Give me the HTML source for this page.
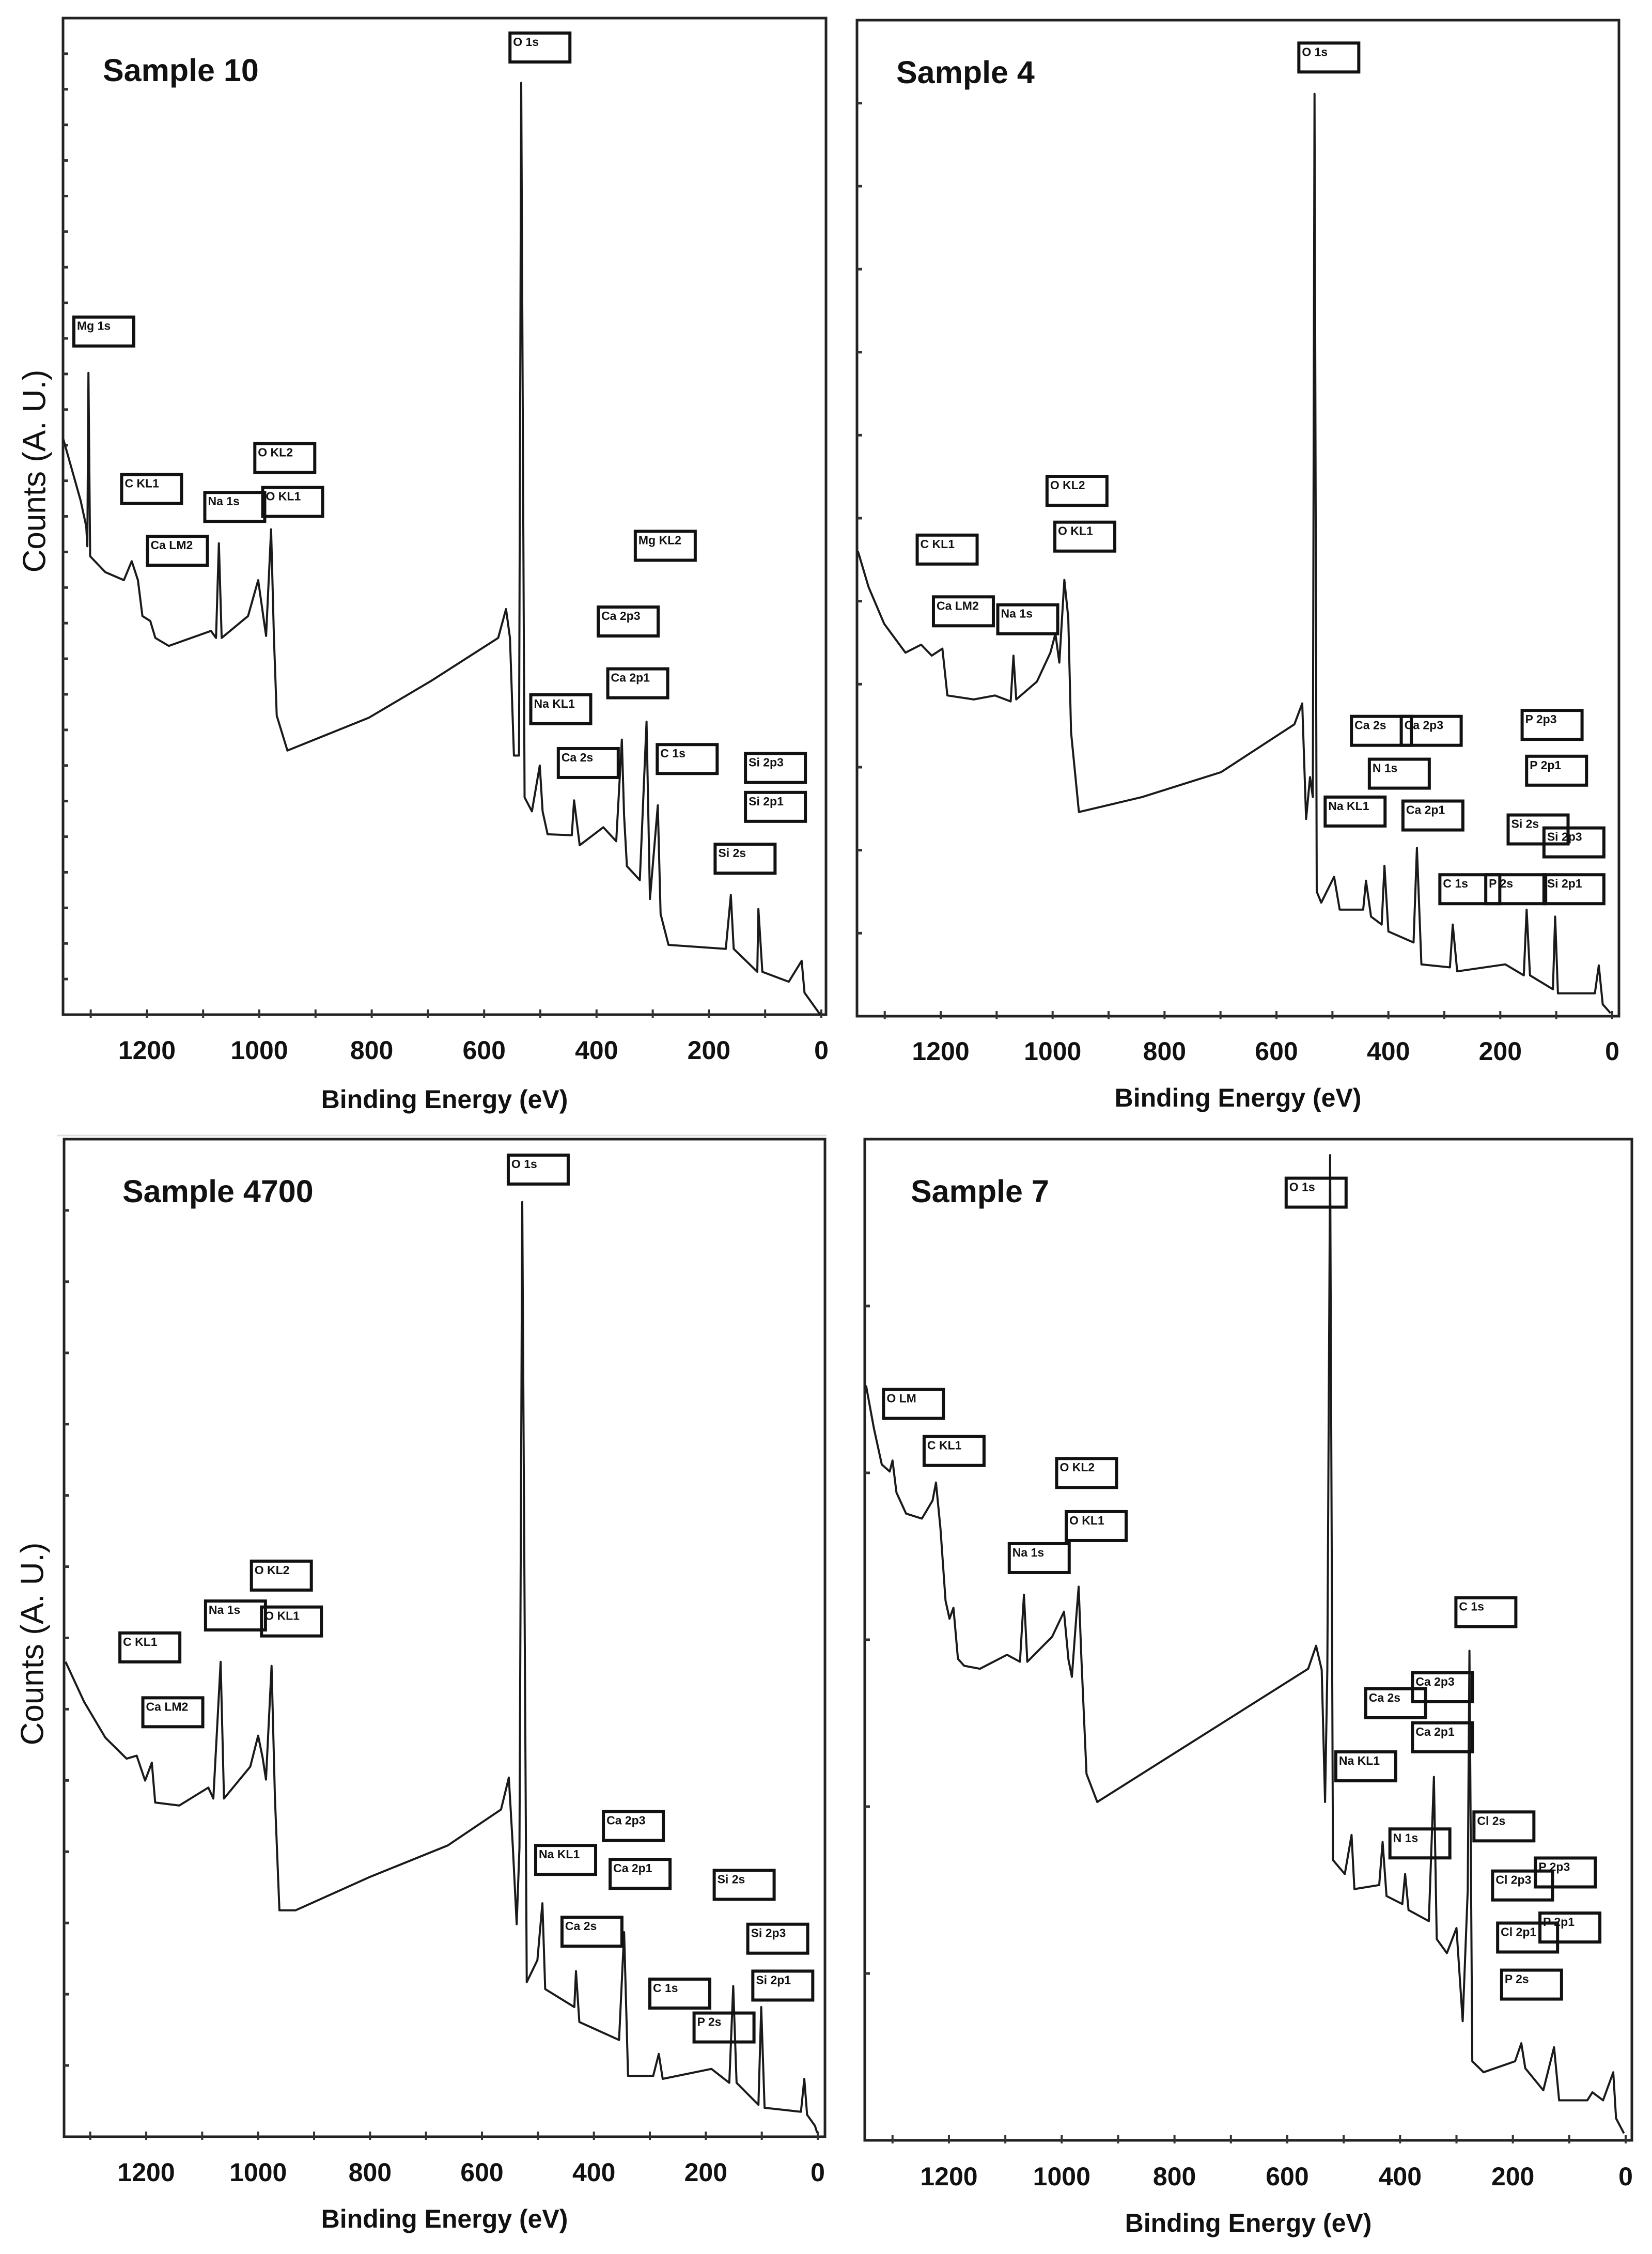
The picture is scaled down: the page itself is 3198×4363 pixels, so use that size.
<!DOCTYPE html>
<html>
<head>
<meta charset="utf-8">
<style>
html,body{margin:0;padding:0;background:#fff;}
svg{display:block;}
text{font-family:"Liberation Sans",sans-serif;}
</style>
</head>
<body>
<svg id="fig" width="3198" height="4363" viewBox="0 0 3198 4363" xmlns="http://www.w3.org/2000/svg">
<rect x="0" y="0" width="3198" height="4363" fill="#fff"/>
</svg>
<script>
// ---- shared tick labels ----
const xTickLabels = [1200, 1000, 800, 600, 400, 200, 0];
const xMinorTicks = [1300, 1200, 1100, 1000, 900, 800, 700, 600, 500, 400, 300, 200, 100, 0];

// ---- Sample 10 ----
const s10Energy = [1349,1318,1308,1306,1304,1301,1274,1241,1227,1216,1208,1194,1185,1161,1086,1077,1072,1067,1020,1002,993,988,979,974,969,950,805,694,575,561,554,547,538,534,528,515,501,496,487,444,440,430,388,365,355,351,346,323,311,305,291,286,272,170,161,156,114,112,105,58,35,30,2];
const s10Counts = [0.578,0.516,0.49,0.47,0.644,0.46,0.444,0.436,0.455,0.436,0.40,0.395,0.378,0.37,0.385,0.378,0.473,0.378,0.40,0.436,0.40,0.38,0.487,0.378,0.30,0.265,0.298,0.335,0.378,0.407,0.378,0.26,0.26,0.935,0.218,0.204,0.25,0.204,0.181,0.18,0.215,0.17,0.188,0.174,0.276,0.20,0.149,0.135,0.294,0.116,0.21,0.101,0.07,0.066,0.12,0.066,0.043,0.106,0.043,0.033,0.054,0.022,0.0];
const s10LabelText = ["O 1s","Mg 1s","C KL1","O KL2","Na 1s","O KL1","Ca LM2","Mg KL2","Ca 2p3","Ca 2p1","Na KL1","Ca 2s","C 1s","Si 2p3","Si 2p1","Si 2s"];
const s10LabelEnergy = [554,1330,1245,1008,1097,994,1199,331,397,380,517,468,292,135,135,189];
const s10LabelCount = [0.985,0.700,0.542,0.573,0.524,0.529,0.480,0.485,0.409,0.347,0.321,0.267,0.271,0.262,0.223,0.171];

// ---- Sample 4 ----
const s4Energy = [1348,1329,1301,1263,1235,1216,1197,1188,1141,1103,1075,1070,1065,1028,1004,995,988,979,972,967,953,840,699,568,554,547,540,535,532,528,520,497,487,445,440,431,412,407,400,355,349,341,290,285,277,191,158,153,147,106,102,97,31,24,17,3];
const s4Counts = [0.467,0.431,0.394,0.365,0.373,0.362,0.369,0.322,0.318,0.322,0.316,0.362,0.318,0.336,0.365,0.384,0.355,0.438,0.40,0.285,0.205,0.22,0.245,0.293,0.314,0.198,0.24,0.22,0.926,0.125,0.114,0.14,0.107,0.107,0.136,0.10,0.092,0.151,0.085,0.074,0.169,0.052,0.049,0.092,0.045,0.052,0.041,0.107,0.041,0.027,0.10,0.023,0.023,0.051,0.012,0.003];
const s4LabelText = ["O 1s","O KL2","O KL1","C KL1","Ca LM2","Na 1s","Ca 2s","Ca 2p3","N 1s","Na KL1","Ca 2p1","P 2p3","P 2p1","Si 2s","Si 2p3","C 1s","P 2s","Si 2p1"];
const s4LabelEnergy = [560,1010,996,1242,1213,1098,466,377,434,513,374,161,153,186,122,308,226,122];
const s4LabelCount = [0.977,0.542,0.496,0.483,0.421,0.413,0.301,0.301,0.258,0.220,0.216,0.307,0.261,0.202,0.189,0.142,0.142,0.142];

// ---- Sample 4700 ----
const s4700Energy = [1344,1311,1273,1235,1217,1202,1190,1184,1141,1089,1080,1067,1061,1014,1000,992,986,976,970,962,933,802,661,566,552,545,538,533,528,520,501,492,487,435,432,426,355,346,339,294,284,277,190,158,151,145,106,101,95,30,24,19,5,1];
const s4700Counts = [0.476,0.436,0.400,0.379,0.382,0.357,0.375,0.335,0.332,0.350,0.339,0.476,0.339,0.371,0.402,0.380,0.358,0.472,0.340,0.227,0.227,0.260,0.292,0.328,0.360,0.292,0.213,0.290,0.937,0.155,0.177,0.234,0.148,0.130,0.166,0.115,0.097,0.205,0.061,0.061,0.083,0.058,0.068,0.054,0.151,0.054,0.032,0.130,0.029,0.025,0.058,0.022,0.011,0.004];
const s4700LabelText = ["O 1s","O KL2","Na 1s","O KL1","C KL1","Ca LM2","Ca 2p3","Na KL1","Ca 2p1","Si 2s","Ca 2s","Si 2p3","Si 2p1","C 1s","P 2s"];
const s4700LabelEnergy = [553,1012,1094,994,1247,1206,383,504,371,185,457,125,116,300,221];
const s4700LabelCount = [0.984,0.577,0.537,0.531,0.505,0.440,0.326,0.292,0.278,0.267,0.220,0.213,0.166,0.158,0.124];

// ---- Sample 7 ----
const s7Energy = [1347,1333,1319,1305,1300,1293,1276,1248,1229,1223,1215,1206,1199,1192,1184,1173,1145,1097,1074,1067,1061,1017,996,988,982,974,970,965,956,937,757,563,549,539,533,529,524,519,498,486,481,437,431,424,396,391,385,349,340,335,317,300,289,280,277,272,252,196,185,178,146,127,118,68,59,40,22,17,3];
const s7Counts = [0.754,0.711,0.675,0.668,0.679,0.647,0.626,0.621,0.639,0.657,0.611,0.539,0.521,0.532,0.481,0.474,0.471,0.485,0.478,0.545,0.478,0.503,0.528,0.480,0.463,0.524,0.553,0.480,0.366,0.338,0.402,0.471,0.494,0.470,0.338,0.470,0.984,0.280,0.266,0.305,0.251,0.255,0.298,0.244,0.236,0.266,0.230,0.219,0.363,0.201,0.187,0.212,0.119,0.250,0.489,0.079,0.068,0.079,0.097,0.072,0.050,0.093,0.040,0.040,0.048,0.040,0.068,0.022,0.007];
const s7LabelText = ["O 1s","O LM","C KL1","O KL2","O KL1","Na 1s","C 1s","Ca 2p3","Ca 2s","Ca 2p1","Na KL1","Cl 2s","N 1s","P 2p3","Cl 2p3","P 2p1","Cl 2p1","P 2s"];
const s7LabelEnergy = [602,1316,1244,1009,992,1093,301,378,461,378,514,269,418,160,236,152,227,220];
const s7LabelCount = [0.961,0.750,0.703,0.681,0.628,0.596,0.542,0.467,0.451,0.417,0.388,0.328,0.311,0.282,0.269,0.227,0.217,0.170];

const NS = "http://www.w3.org/2000/svg";
const svg = document.getElementById("fig");
function mk(tag, attrs, parent){
  const e = document.createElementNS(NS, tag);
  for (const k in attrs) e.setAttribute(k, attrs[k]);
  (parent || svg).appendChild(e);
  return e;
}

function drawPanel(cfg, energy, counts, lblText, lblE, lblC){
  const g = mk("g", {});
  
  
  const xS = ev => cfg.x0 - ev * cfg.k;
  const yS = c => cfg.bottom - c * (cfg.bottom - cfg.top);

  const fr = mk("rect", {x: cfg.left, y: cfg.top, width: cfg.right - cfg.left, height: cfg.bottom - cfg.top, fill: "none", stroke: "#222", "stroke-width": 5}, g);
  
  

  for (let i = 1; i < cfg.yTicks; i++){
    const y = cfg.bottom - i * (cfg.bottom - cfg.top) / cfg.yTicks;
    const t = mk("line", {x1: cfg.left, x2: cfg.left + 10, y1: y, y2: y, stroke: "#333", "stroke-width": 5}, g);
    
    
  }
  xMinorTicks.forEach(v => {
    const x = xS(v);
    const t = mk("line", {x1: x, x2: x, y1: cfg.bottom - 10, y2: cfg.bottom + 6, stroke: "#333", "stroke-width": 4}, g);
    
    
  });
  xTickLabels.forEach(v => {
    const t = mk("text", {x: xS(v), y: cfg.tickY, "text-anchor": "middle", "font-size": 50, "font-weight": "bold", fill: "#111"}, g);
    t.textContent = v;
    
    
  });
  const xt = mk("text", {x: (cfg.left + cfg.right) / 2, y: cfg.titleY, "text-anchor": "middle", "font-size": 50, "font-weight": "bold", fill: "#111"}, g);
  xt.textContent = "Binding Energy (eV)";
  
  

  const st = mk("text", {x: cfg.titleX, y: cfg.top + 122, "font-size": 61, "font-weight": "bold", fill: "#111"}, g);
  st.textContent = cfg.title;
  
  

  const pts = energy.map((ev, i) => xS(ev).toFixed(1) + "," + yS(counts[i]).toFixed(1)).join(" ");
  const line = mk("polyline", {points: pts, fill: "none", stroke: "#1a1a1a", "stroke-width": 4, "stroke-linejoin": "round"}, g);
  
  

  lblText.forEach((txt, i) => {
    const bx = xS(lblE[i]), by = yS(lblC[i]);
    const lg = mk("g", {}, g);
    
    
    mk("rect", {x: bx, y: by, width: 116, height: 56, fill: "none", stroke: "#111", "stroke-width": 6}, lg);
    const t = mk("text", {x: bx + 6, y: by + 25, "font-size": 23, "font-weight": "bold", fill: "#111"}, lg);
    t.textContent = txt;
  });
}

drawPanel({name: "panel-sample-10", title: "Sample 10", left: 122, top: 35, right: 1599, bottom: 1964, x0: 1590, k: 1.088, yTicks: 28, tickY: 2050, titleY: 2145, titleX: 199},
  s10Energy, s10Counts, s10LabelText, s10LabelEnergy, s10LabelCount);
drawPanel({name: "panel-sample-4", title: "Sample 4", left: 1659, top: 39, right: 3134, bottom: 1967, x0: 3121, k: 1.0833, yTicks: 12, tickY: 2052, titleY: 2142, titleX: 1735},
  s4Energy, s4Counts, s4LabelText, s4LabelEnergy, s4LabelCount);
drawPanel({name: "panel-sample-4700", title: "Sample 4700", left: 124, top: 2205, right: 1597, bottom: 4136, x0: 1583, k: 1.0833, yTicks: 14, tickY: 4222, titleY: 4312, titleX: 237},
  s4700Energy, s4700Counts, s4700LabelText, s4700LabelEnergy, s4700LabelCount);
drawPanel({name: "panel-sample-7", title: "Sample 7", left: 1674, top: 2205, right: 3159, bottom: 4143, x0: 3147, k: 1.0917, yTicks: 6, tickY: 4230, titleY: 4320, titleX: 1763},
  s7Energy, s7Counts, s7LabelText, s7LabelEnergy, s7LabelCount);

[[71, 912], [67, 3182]].forEach(p => {
  const t = mk("text", {x: p[0], y: p[1], "text-anchor": "middle", "dominant-baseline": "middle", "font-size": 62, fill: "#111", transform: "rotate(-90 " + p[0] + " " + p[1] + ")"});
  t.textContent = "Counts (A. U.)";
  
  
});
const sep = mk("line", {x1: 110, x2: 1600, y1: 2198, y2: 2198, stroke: "#ddd", "stroke-width": 3});


</script>
</body>
</html>
